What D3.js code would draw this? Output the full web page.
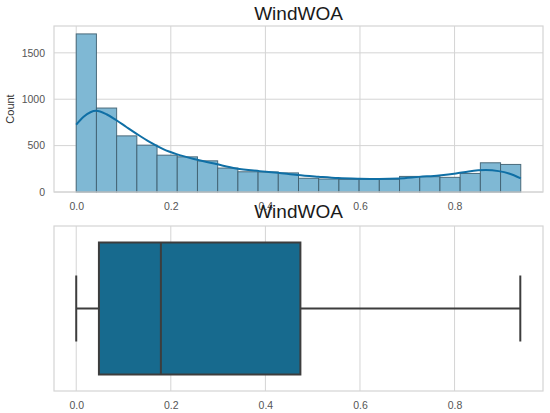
<!DOCTYPE html>
<html>
<head>
<meta charset="utf-8">
<script src="https://cdn.jsdelivr.net/npm/d3@7"></script>
<style>
  body { margin: 0; background: #fff; }
  text { font-family: "Liberation Sans", Arial, sans-serif; }
</style>
</head>
<body>
<svg id="chart"></svg>
<script>
// histogram counts, 22 equal bins between BIN_MIN and BIN_MAX
const BIN_MIN = 0;
const BIN_MAX = 0.94;
const COUNTS = [1704, 905, 605, 505, 397, 379, 336, 258, 218, 216, 206, 148,
                140, 136, 136, 137, 168, 165, 158, 200, 315, 297];

// kde curve
const KDE_X = [0.000, 0.015, 0.030, 0.042, 0.064, 0.085, 0.106, 0.127, 0.155, 0.184,
               0.212, 0.254, 0.296, 0.338, 0.388, 0.426, 0.468, 0.512, 0.554, 0.598,
               0.641, 0.683, 0.725, 0.767, 0.803, 0.830, 0.866, 0.893, 0.915, 0.940];
const KDE_Y = [725, 808, 860, 875, 838, 773, 701, 630, 540, 462,
               408, 350, 301, 254, 225, 207, 183, 165, 150, 143,
               140, 145, 163, 179, 200, 222, 236, 225, 200, 147];

// box plot stats: whisker low, q1, median, q3, whisker high
const BOX = [0, 0.048, 0.179, 0.474, 0.939];

const X_TICKS = [0, 0.2, 0.4, 0.6, 0.8];
const Y_TICKS = [0, 500, 1000, 1500];
const TITLE = "WindWOA";

const WIDTH = 550;
const HEIGHT = 413;
const GRID = "#d4d4d4";
const TICK_COLOR = "#555";

const svg = d3.select("#chart")
    .attr("width", WIDTH)
    .attr("height", HEIGHT);

const pad = (BIN_MAX - BIN_MIN) * 0.05;
const x = d3.scaleLinear()
    .domain([BIN_MIN - pad, BIN_MAX + pad])
    .range([54, 543]);

// ---------- top: histogram ----------
const histBox = { y0: 26, y1: 192 };
const yMax = d3.max(COUNTS) * 1.05;
const y = d3.scaleLinear().domain([0, yMax]).range([histBox.y1, histBox.y0]);

const g1 = svg.append("g");

// grid
g1.selectAll(".vgrid").data(X_TICKS).enter().append("line")
    .attr("x1", d => x(d)).attr("x2", d => x(d))
    .attr("y1", histBox.y0).attr("y2", histBox.y1)
    .attr("stroke", GRID).attr("stroke-width", 1);
g1.selectAll(".hgrid").data(Y_TICKS).enter().append("line")
    .attr("x1", x.range()[0]).attr("x2", x.range()[1])
    .attr("y1", d => y(d)).attr("y2", d => y(d))
    .attr("stroke", GRID).attr("stroke-width", 1);

// bars
const binW = (BIN_MAX - BIN_MIN) / COUNTS.length;
g1.selectAll(".bar").data(COUNTS).enter().append("rect")
    .attr("x", (d, i) => x(BIN_MIN + i * binW))
    .attr("width", (d, i) => x(BIN_MIN + (i + 1) * binW) - x(BIN_MIN + i * binW))
    .attr("y", d => y(d))
    .attr("height", d => y(0) - y(d))
    .attr("fill", "#7fb8d4")
    .attr("stroke", "#3f5f70")
    .attr("stroke-opacity", 0.9)
    .attr("stroke-width", 1);

// kde
const line = d3.line()
    .x(d => x(d[0]))
    .y(d => y(d[1]))
    .curve(d3.curveMonotoneX);
g1.append("path")
    .datum(d3.zip(KDE_X, KDE_Y))
    .attr("d", line)
    .attr("fill", "none")
    .attr("stroke", "#0f6fa5")
    .attr("stroke-width", 2);

// frame
g1.append("rect")
    .attr("x", x.range()[0]).attr("y", histBox.y0)
    .attr("width", x.range()[1] - x.range()[0])
    .attr("height", histBox.y1 - histBox.y0)
    .attr("fill", "none").attr("stroke", GRID).attr("stroke-width", 1.2);

// tick labels
const xAxis1 = g1.append("g")
    .attr("transform", "translate(0," + histBox.y1 + ")")
    .call(d3.axisBottom(x).tickValues(X_TICKS).tickFormat(d3.format(".1f")).tickSize(0).tickPadding(11));
const yAxis1 = g1.append("g")
    .attr("transform", "translate(" + x.range()[0] + ",0)")
    .call(d3.axisLeft(y).tickValues(Y_TICKS).tickFormat(d3.format("d")).tickSize(0).tickPadding(9));
[xAxis1, yAxis1].forEach(a => {
    a.select(".domain").remove();
    a.selectAll("text").attr("fill", TICK_COLOR)
        .style("font-size", "10.5px")
        .style("font-family", "'Liberation Sans', Arial, sans-serif");
});

g1.append("text")
    .attr("transform", "translate(14,109) rotate(-90)")
    .attr("text-anchor", "middle")
    .style("font-size", "11px")
    .attr("fill", "#333")
    .text("Count");

// ---------- bottom: box plot ----------
const boxArea = { y0: 226, y1: 391 };
const yb = d3.scaleLinear().domain([-0.5, 0.5]).range([boxArea.y1, boxArea.y0]);

const g2 = svg.append("g");

g2.selectAll(".vgrid").data(X_TICKS).enter().append("line")
    .attr("x1", d => x(d)).attr("x2", d => x(d))
    .attr("y1", boxArea.y0).attr("y2", boxArea.y1)
    .attr("stroke", GRID).attr("stroke-width", 1);

g2.append("rect")
    .attr("x", x.range()[0]).attr("y", boxArea.y0)
    .attr("width", x.range()[1] - x.range()[0])
    .attr("height", boxArea.y1 - boxArea.y0)
    .attr("fill", "none").attr("stroke", GRID).attr("stroke-width", 1.2);

const LINE = "#3d3d3d";
const LW = 2;
// whiskers
g2.append("line")
    .attr("x1", x(BOX[0])).attr("x2", x(BOX[1]))
    .attr("y1", yb(0)).attr("y2", yb(0))
    .attr("stroke", LINE).attr("stroke-width", LW);
g2.append("line")
    .attr("x1", x(BOX[3])).attr("x2", x(BOX[4]))
    .attr("y1", yb(0)).attr("y2", yb(0))
    .attr("stroke", LINE).attr("stroke-width", LW);
[BOX[0], BOX[4]].forEach(v => {
    g2.append("line")
        .attr("x1", x(v)).attr("x2", x(v))
        .attr("y1", yb(-0.2)).attr("y2", yb(0.2))
        .attr("stroke", LINE).attr("stroke-width", LW);
});
// box
g2.append("rect")
    .attr("x", x(BOX[1])).attr("width", x(BOX[3]) - x(BOX[1]))
    .attr("y", yb(0.4)).attr("height", yb(-0.4) - yb(0.4))
    .attr("fill", "#176a8e")
    .attr("stroke", LINE).attr("stroke-width", LW);
g2.append("line")
    .attr("x1", x(BOX[2])).attr("x2", x(BOX[2]))
    .attr("y1", yb(0.4)).attr("y2", yb(-0.4))
    .attr("stroke", LINE).attr("stroke-width", LW);

const xAxis2 = g2.append("g")
    .attr("transform", "translate(0," + boxArea.y1 + ")")
    .call(d3.axisBottom(x).tickValues(X_TICKS).tickFormat(d3.format(".1f")).tickSize(0).tickPadding(11));
xAxis2.select(".domain").remove();
xAxis2.selectAll("text").attr("fill", TICK_COLOR)
    .style("font-size", "10.5px")
    .style("font-family", "'Liberation Sans', Arial, sans-serif");

// titles (second one sits over the top plot's tick labels, as in the source)
const cx = (x.range()[0] + x.range()[1]) / 2;
[19.5, 218].forEach(ty => {
    svg.append("text")
        .attr("x", cx).attr("y", ty)
        .attr("text-anchor", "middle")
        .style("font-size", "19px")
        .attr("fill", "#1a1a1a")
        .text(TITLE);
});
</script>
</body>
</html>
